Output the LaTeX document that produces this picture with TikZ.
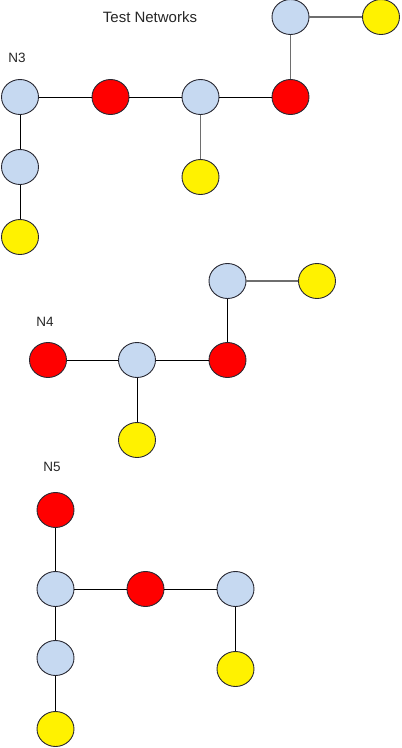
\documentclass[tikz,border=0pt]{standalone}
\usepackage{fontspec}
\setmainfont{Liberation Sans}
\usetikzlibrary{shapes.geometric}
\definecolor{nblue}{RGB}{198,217,241}
\definecolor{nline}{RGB}{40,40,50}
\definecolor{egray}{RGB}{110,110,110}
\tikzset{
  nd/.style={ellipse,draw=nline,line width=0.9pt,minimum width=37pt,minimum height=35pt,inner sep=0pt},
  bnode/.style={nd,fill=nblue},
  rnode/.style={nd,fill=red},
  ynode/.style={nd,fill=yellow},
  edge/.style={draw=black,line width=0.9pt},
  gedge/.style={draw=egray,line width=1.6pt},
  lbl/.style={inner sep=0pt,font=\fontsize{13.5}{16}\selectfont,text=black!85}
}
\begin{document}
\begin{tikzpicture}[x=1pt,y=-1pt]
\useasboundingbox (0,0) rectangle (402,748);
\node[lbl,font=\fontsize{15}{18}\selectfont] (title) at (150,17) {Test Networks};
% N3
\node[lbl] (n3) at (17,58) {N3};
\node[bnode] (a1) at (20,97) {};
\node[rnode] (r1) at (110.5,97) {};
\node[bnode] (b2) at (200.5,97) {};
\node[rnode] (r2) at (290.5,97) {};
\node[bnode] (b3) at (290.5,17) {};
\node[ynode] (y1) at (381,17) {};
\node[bnode] (b4) at (20,167) {};
\node[ynode] (y2) at (20,237) {};
\node[ynode] (y3) at (200.5,177) {};
\draw[edge] (a1) -- (r1);
\draw[edge] (r1) -- (b2);
\draw[edge] (b2) -- (r2);
\draw[gedge] (r2) -- (b3);
\draw[gedge] (b3) -- (y1);
\draw[gedge] (b2) -- (y3);
\draw[edge] (a1) -- (b4);
\draw[edge] (b4) -- (y2);
% N4
\node[lbl] (n4) at (45,322) {N4};
\node[rnode] (c1) at (48,360) {};
\node[bnode] (c2) at (137,360) {};
\node[rnode] (c3) at (227.5,360) {};
\node[bnode] (c4) at (227.5,281) {};
\node[ynode] (c5) at (317,281) {};
\node[ynode] (c6) at (137,440) {};
\draw[edge] (c1) -- (c2);
\draw[edge] (c2) -- (c3);
\draw[edge] (c3) -- (c4);
\draw[gedge] (c4) -- (c5);
\draw[edge] (c2) -- (c6);
% N5
\node[lbl] (n5) at (52,467) {N5};
\node[rnode] (d1) at (55.5,510) {};
\node[bnode] (d2) at (55.5,589) {};
\node[rnode] (d3) at (145.5,589) {};
\node[bnode] (d4) at (235.5,589) {};
\node[ynode] (d5) at (235.5,669) {};
\node[bnode] (d6) at (55.5,658) {};
\node[ynode] (d7) at (55.5,729) {};
\draw[edge] (d1) -- (d2);
\draw[edge] (d2) -- (d3);
\draw[edge] (d3) -- (d4);
\draw[edge] (d4) -- (d5);
\draw[edge] (d2) -- (d6);
\draw[edge] (d6) -- (d7);
\end{tikzpicture}
\end{document}
